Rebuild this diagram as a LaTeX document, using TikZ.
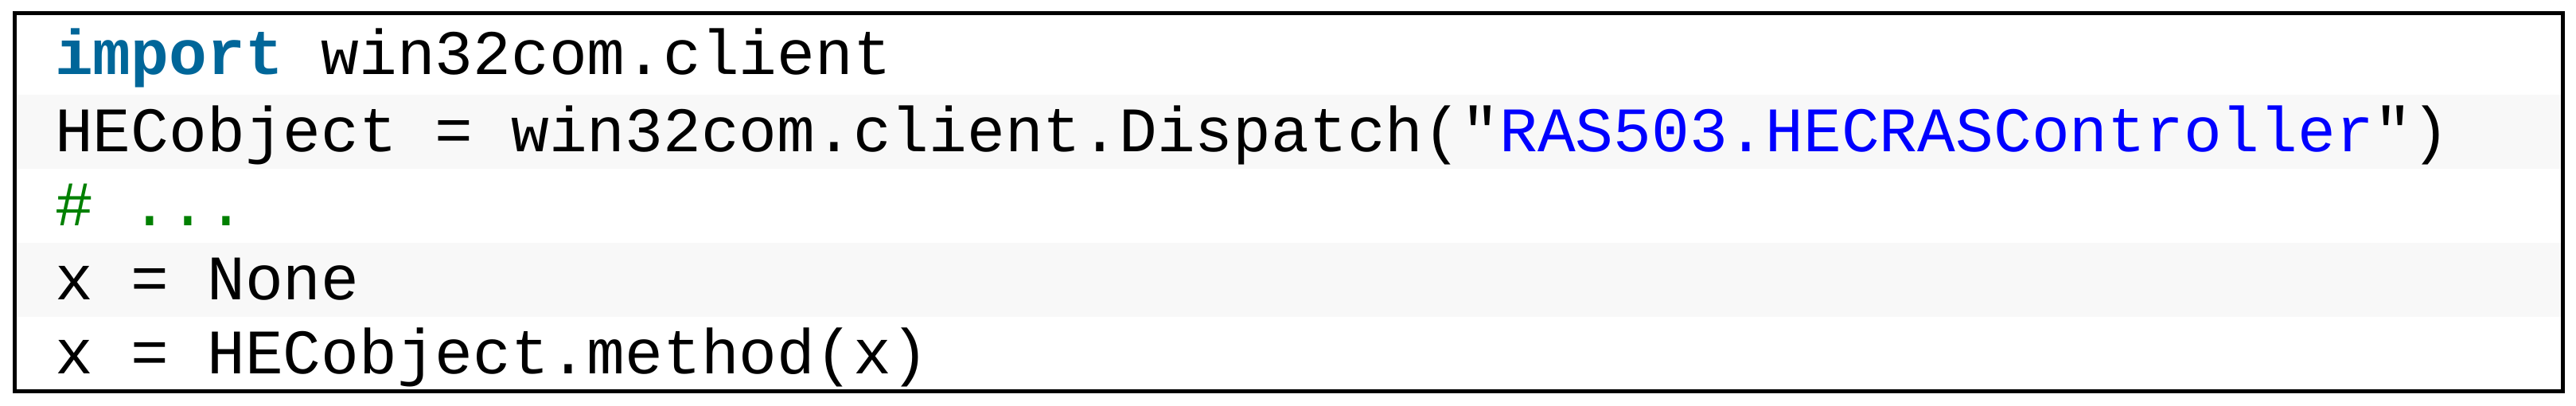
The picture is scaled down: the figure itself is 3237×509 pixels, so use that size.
\documentclass[tikz,border=0pt]{standalone}
\usepackage{fontspec}
\setmonofont{Liberation Mono}
\definecolor{kwcol}{HTML}{006699}
\definecolor{strcol}{HTML}{0000FF}
\definecolor{cmtcol}{HTML}{008000}
\definecolor{rowcol}{HTML}{F8F8F8}
\begin{document}
\begin{tikzpicture}[x=1pt,y=-1pt,
  codeline/.style={anchor=base west,inner sep=0pt,font=\fontsize{79.6}{80}\selectfont\ttfamily}]
\useasboundingbox (0,0) rectangle (3237,509);
\fill[rowcol] (19,119) rectangle (3220,212);
\fill[rowcol] (19,305) rectangle (3220,398);
\node[codeline] (l1) at (69,93) {\textcolor{kwcol}{\bfseries import} win32com.client};
\node[codeline] (l2) at (69,190) {HECobject = win32com.client.Dispatch("\textcolor{strcol}{RAS503.HECRASController}")};
\node[codeline] (l3) at (69,283) {\textcolor{cmtcol}{\# ...}};
\node[codeline] (l4) at (69,376) {x = None};
\node[codeline] (l5) at (69,469) {x = HECobject.method(x)};
\draw[line width=5pt] (18.5,16.5) rectangle (3220.5,491.5);
\end{tikzpicture}
\end{document}
